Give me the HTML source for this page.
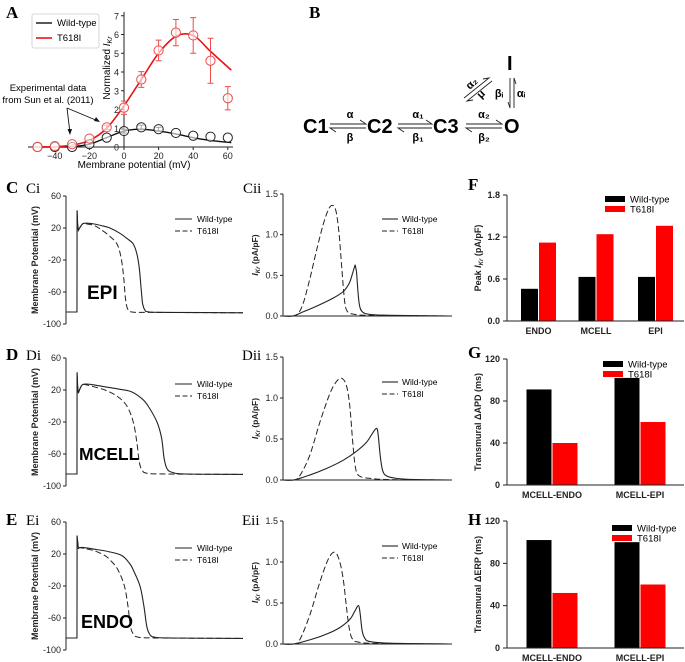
<!DOCTYPE html>
<html><head><meta charset="utf-8"><style>
html,body{margin:0;padding:0;background:#fff;}
svg{display:block;font-family:"Liberation Sans",Arial,sans-serif;}
.pl{font-family:"Liberation Serif",serif;font-weight:bold;font-size:17px;}
.sl{font-family:"Liberation Serif",serif;font-size:15px;}
.tk{font-size:9px;fill:#222;}
.bt{font-size:9px;font-weight:bold;fill:#222;}
</style></head><body>
<svg id="fig" width="685" height="662" viewBox="0 0 685 662" xmlns="http://www.w3.org/2000/svg"></svg>
<script>
// ---------- Panel A data ----------
const aVolt = [-50,-40,-30,-20,-10,0,10,20,30,40,50,60];
const aWtPts = [0,0,0,0.15,0.5,0.85,1.05,0.95,0.75,0.6,0.55,0.5];
const aWtErr = [0,0,0,0.03,0.05,0.1,0.12,0.1,0.06,0.05,0.05,0.05];
const aMutPts = [0,0.05,0.15,0.45,1.05,2.1,3.6,5.15,6.1,5.95,4.6,2.6];
const aMutErr = [0,0,0.03,0.05,0.12,0.35,0.42,0.55,0.7,0.95,1.2,0.62];
const aFitV = [-52,-50,-40,-30,-20,-10,0,10,20,30,40,50,62];
const aWtFit = [0,0,0,0.02,0.15,0.5,0.85,0.95,0.85,0.7,0.5,0.35,0.23];
const aMutFit = [0,0,0.02,0.1,0.35,1.0,2.2,3.6,5.0,5.9,5.95,5.1,4.1];
const aXTicks = [-40,-20,0,20,40,60];
const aYTicks = [0,1,2,3,4,5,6,7];
// ---------- AP traces [t(ms), mV] ----------
const epiWt = [[0,-85],[31,-85],[31.3,42],[33,24],[35,17],[40,21],[48,25.5],[60,26],[80,25],[100,23],[124,20],[150,14],[175,6],[190,0],[200,-12],[207,-30],[212,-55],[216,-74],[222,-82],[235,-85],[300,-85.5],[500,-86]];
const epiMut = [[0,-85],[31,-85],[31.3,42],[33,24],[35,17],[40,21],[48,25.5],[60,25],[80,23],[96,19],[120,11],[144,0],[156,-18],[163,-42],[168,-68],[174,-81],[186,-85],[250,-85.5],[500,-86]];
const mcWt = [[0,-85],[31,-85],[31.3,42],[33,24],[35,16],[40,22],[48,27],[70,27],[110,24],[150,21],[184,18],[215,9],[232,0],[257,-20],[270,-40],[277,-65],[285,-78],[300,-83],[340,-85],[500,-85.5]];
const mcMut = [[0,-85],[31,-85],[31.3,42],[33,24],[35,16],[40,22],[48,27],[70,25],[110,20],[145,12],[172,0],[190,-20],[200,-45],[207,-70],[215,-80],[228,-84],[280,-85],[500,-85.5]];
const enWt = [[0,-85],[31,-85],[31.3,43],[33,35],[35,27],[40,28],[50,28],[80,26],[120,23],[158,18],[180,8],[190,0],[209,-20],[220,-45],[228,-70],[236,-80],[250,-84],[300,-85],[500,-85.5]];
const enMut = [[0,-85],[31,-85],[31.3,43],[33,35],[35,27],[40,28],[50,27],[80,24],[110,18],[130,10],[147,0],[165,-20],[175,-45],[182,-70],[190,-80],[205,-84],[260,-85],[500,-85.5]];
// ---------- IKr traces [t(ms), pA/pF] ----------
const ciWt = [[0,0],[30,0],[60,0.05],[100,0.12],[150,0.22],[180,0.3],[198,0.4],[208,0.52],[216,0.63],[220,0.55],[224,0.32],[229,0.13],[238,0.05],[260,0.02],[320,0.008],[500,0]];
const ciMut = [[0,0],[30,0],[45,0.03],[60,0.15],[80,0.45],[100,0.8],[120,1.12],[135,1.3],[147,1.36],[158,1.3],[167,1.05],[174,0.7],[180,0.38],[186,0.14],[194,0.05],[215,0.02],[270,0.008],[500,0]];
const diWt = [[0,0],[32,0],[80,0.06],[130,0.14],[180,0.24],[220,0.35],[250,0.46],[268,0.57],[280,0.63],[285,0.55],[291,0.3],[298,0.12],[310,0.05],[340,0.02],[400,0.005],[500,0]];
const diMut = [[0,0],[32,0],[50,0.05],[80,0.3],[110,0.7],[140,1.05],[160,1.2],[176,1.24],[190,1.15],[200,0.9],[209,0.45],[217,0.15],[228,0.05],[260,0.02],[320,0.005],[500,0]];
const eiWt = [[0,0],[32,0],[80,0.05],[130,0.12],[170,0.2],[200,0.3],[215,0.4],[226,0.47],[231,0.37],[237,0.16],[245,0.07],[260,0.03],[320,0.01],[500,0]];
const eiMut = [[0,0],[32,0],[50,0.05],[80,0.35],[110,0.75],[135,1.03],[154,1.12],[168,1.03],[180,0.8],[190,0.45],[198,0.2],[208,0.06],[230,0.02],[300,0.005],[500,0]];
const apTicks = [60,20,-20,-60,-100];
const ikTicks = [0,0.5,1.0,1.5];
// ---------- Bars ----------
const fCats = ["ENDO","MCELL","EPI"];
const fWt = [0.46,0.63,0.63];
const fMut = [1.12,1.24,1.36];
const fTicks = [0,0.6,1.2,1.8];
const gCats = ["MCELL-ENDO","MCELL-EPI"];
const gWt = [91,102];
const gMut = [40,60];
const hWt = [102,100];
const hMut = [52,60];
const ghTicks = [0,40,80,120];

const NS="http://www.w3.org/2000/svg";
const svg=document.getElementById('fig');
function mk(tag,attrs,parent){const e=document.createElementNS(NS,tag);for(const k in attrs)e.setAttribute(k,attrs[k]);(parent||svg).appendChild(e);return e;}
function txt(s,x,y,cls,extra,parent){const e=mk('text',Object.assign({x:x,y:y},extra||{}),parent);if(cls)e.setAttribute('class',cls);e.textContent=s;return e;}
function smooth(p){
  const n=p.length;
  const jump=i=>(i>=0&&i<n-1&&Math.abs(p[i+1][0]-p[i][0])<1.5);
  let d='M'+p[0][0].toFixed(2)+','+p[0][1].toFixed(2);
  for(let i=0;i<n-1;i++){
    const p1=p[i],p2=p[i+1];
    if(jump(i)){d+=`L${p2[0].toFixed(2)},${p2[1].toFixed(2)}`;continue;}
    const p0=(i>0&&!jump(i-1))?p[i-1]:p1;
    const p3=(i+2<n&&!jump(i+1))?p[i+2]:p2;
    const c1=[p1[0]+(p2[0]-p0[0])/6,p1[1]+(p2[1]-p0[1])/6],c2=[p2[0]-(p3[0]-p1[0])/6,p2[1]-(p3[1]-p1[1])/6];
    d+=`C${c1[0].toFixed(2)},${c1[1].toFixed(2)} ${c2[0].toFixed(2)},${c2[1].toFixed(2)} ${p2[0].toFixed(2)},${p2[1].toFixed(2)}`;
  }
  return d;
}

// panel letters
[['A',6,18],['B',309,18],['C',6,193],['D',6,360],['E',6,525],['F',468,190],['G',468,358],['H',468,525]].forEach(l=>{
  const t=txt(l[0],l[1],l[2],'pl');
  
  
});
[['Ci',26,193],['Cii',243,193],['Di',26,360],['Dii',242,360],['Ei',26,525],['Eii',242,525]].forEach(l=>{
  const t=txt(l[0],l[1],l[2],'sl');
  
  
});

// ---------- Panel A ----------
(function(){
  const g=mk('g',{});
  
  
  const X=v=>124+v*1.73, Y=v=>147-v*18.75;
  mk('line',{x1:124,y1:12,x2:124,y2:147,stroke:'#222','stroke-width':1},g);
  mk('line',{x1:28,y1:147,x2:233,y2:147,stroke:'#222','stroke-width':1},g);
  aXTicks.forEach(v=>{mk('line',{x1:X(v),y1:147,x2:X(v),y2:150,stroke:'#222'},g);const t=txt((v<0?'−':'')+Math.abs(v),X(v),159,'tk',{'text-anchor':'middle','font-size':'10'},g);});
  aYTicks.forEach(v=>{mk('line',{x1:121,y1:Y(v),x2:124,y2:Y(v),stroke:'#222'},g);const t=txt(String(v),119,Y(v)+3.5,'tk',{'text-anchor':'end','font-size':'10'},g);});
  const xl=txt('Membrane potential (mV)',134,168,null,{'text-anchor':'middle','font-size':'10'},g);
  
  const yl=mk('text',{x:0,y:0,transform:'translate(110,68) rotate(-90)','text-anchor':'middle','font-size':'10'},g);
  yl.innerHTML='Normalized <tspan font-style="italic">I</tspan><tspan font-size="7" dy="2" font-style="italic">Kr</tspan>';
  
  const fw=mk('path',{d:smooth(aFitV.map((v,i)=>[X(v),Y(aWtFit[i])])),fill:'none',stroke:'#111','stroke-width':1.4},g);
  
  const fm=mk('path',{d:smooth(aFitV.map((v,i)=>[X(v),Y(aMutFit[i])])),fill:'none',stroke:'#e8141a','stroke-width':1.6},g);
  
  function pts(vals,errs,col,name){aVolt.forEach((v,i)=>{
    if(errs[i]>0.08){const e=mk('path',{d:`M${X(v)},${Y(vals[i]+errs[i])}V${Y(vals[i]-errs[i])}M${X(v)-3},${Y(vals[i]+errs[i])}h6M${X(v)-3},${Y(vals[i]-errs[i])}h6`,stroke:col,'stroke-width':1,fill:'none'},g);}
    const c=mk('circle',{cx:X(v),cy:Y(vals[i]),r:4.6,fill:'#fff','fill-opacity':0.6,stroke:col,'stroke-width':1},g);
    
  });}
  pts(aWtPts,aWtErr,'#222','wild-type');
  pts(aMutPts,aMutErr,'#ef4b4b','t618i');
  const lg=mk('g',{},g);
  mk('rect',{x:32,y:14,width:67,height:34,fill:'#fff',stroke:'#ccc','stroke-width':0.8,rx:2},lg);
  mk('line',{x1:36,y1:23,x2:52,y2:23,stroke:'#111','stroke-width':1.4},lg);
  txt('Wild-type',57,26,null,{'font-size':'9.5'},lg);
  mk('line',{x1:36,y1:38,x2:52,y2:38,stroke:'#e8141a','stroke-width':1.6},lg);
  txt('T618I',57,41,null,{'font-size':'9.5'},lg);
  const an=mk('g',{},g);
  txt('Experimental data',48,91,null,{'text-anchor':'middle','font-size':'9.5'},an);
  txt('from Sun et al. (2011)',48,103,null,{'text-anchor':'middle','font-size':'9.5'},an);
  mk('path',{d:'M67,108L70,133M67,108L98,121',stroke:'#111','stroke-width':0.9,fill:'none'},an);
  mk('path',{d:'M70,135l-2.5,-6l4.5,0zM100,122l-6,-1l2,-4z',fill:'#111'},an);
})();

// ---------- Panel B ----------
(function(){
  const g=mk('g',{'font-weight':'bold'});
  
  
  const st=[['C1',303,133],['C2',367,133],['C3',433,133],['O',504,133],['I',507,70]];
  st.forEach(s=>{const t=txt(s[0],s[1],s[2],null,{'font-size':'20'},g);});
  function harr(x1,x2,y){mk('path',{d:`M${x1},${y-2}H${x2}l-6,-4M${x2},${y+2}H${x1}l6,4`,stroke:'#222','stroke-width':0.9,fill:'none'},g);}
  harr(330,366,126);harr(398,432,126);harr(466,502,126);
  mk('path',{d:'M510,78V108l-2,-6M514,108V78l2,6',stroke:'#222','stroke-width':0.9,fill:'none'},g);
  mk('path',{d:'M464,98L489,78l-6,1M492,81L467,101l6,-1',stroke:'#222','stroke-width':0.9,fill:'none'},g);
  const lab=[['α',350,118],['β',350,141],['α₁',418,118],['β₁',418,141],['α₂',484,118],['β₂',484,141],['βᵢ',499,97],['αᵢ',521,97]];
  lab.forEach(l=>{const t=txt(l[0],l[1],l[2],null,{'text-anchor':'middle','font-size':'11'},g);});
  const a2=txt('α₂',0,0,null,{'font-size':'11',transform:'translate(470,90) rotate(-45)'},g);
  const mu=txt('μ',0,0,null,{'font-size':'11',transform:'translate(481,99) rotate(-45)'},g);
})();

// ---------- AP panels ----------
function apPanel(name,top,bot,wt,mut,tag,tagX,tagY,legY,fs){
  const g=mk('g',{});
  
  
  const X=t=>66+t*177/500, Y=v=>top+(60-v)*(bot-top)/160;
  mk('line',{x1:66,y1:top,x2:66,y2:bot,stroke:'#222','stroke-width':1},g);
  apTicks.forEach(v=>{mk('line',{x1:63,y1:Y(v),x2:66,y2:Y(v),stroke:'#222'},g);const t=txt(String(v),61,Y(v)+3,'tk',{'text-anchor':'end','font-size':'8.5'},g);});
  const yl=txt('Membrane Potential (mV)',0,0,'bt',{transform:`translate(38,${(top+bot)/2}) rotate(-90)`,'text-anchor':'middle','font-size':'8.5'},g);
  
  const pm=mk('path',{d:smooth(mut.map(p=>[X(p[0]),Y(p[1])])),fill:'none',stroke:'#222','stroke-width':1,'stroke-dasharray':'6,3'},g);
  
  const pw=mk('path',{d:smooth(wt.map(p=>[X(p[0]),Y(p[1])])),fill:'none',stroke:'#222','stroke-width':1.1},g);
  
  const tg=txt(tag,tagX,tagY,null,{'font-weight':'bold','font-size':fs},g);
  
  const lg=mk('g',{'font-size':'8.5'},g);
  mk('line',{x1:175,y1:legY,x2:192,y2:legY,stroke:'#222','stroke-width':1.1},lg);
  txt('Wild-type',197,legY+3,null,{},lg);
  mk('line',{x1:175,y1:legY+12,x2:192,y2:legY+12,stroke:'#222','stroke-dasharray':'5,2.5'},lg);
  txt('T618I',197,legY+15,null,{},lg);
}
apPanel('panel-ci-epi-ap',196,324,epiWt,epiMut,'EPI',87,299,219,'19');
apPanel('panel-di-mcell-ap',358,486,mcWt,mcMut,'MCELL',79,460,384,'17.5');
apPanel('panel-ei-endo-ap',522,650,enWt,enMut,'ENDO',81,628,548,'18');

// ---------- IKr panels ----------
function ikPanel(name,top,bot,wt,mut,legY){
  const g=mk('g',{});
  
  
  const X=t=>283+t*167/500, Y=v=>bot-v*(bot-top)/1.5;
  mk('line',{x1:283,y1:top,x2:283,y2:bot,stroke:'#222','stroke-width':1},g);
  mk('line',{x1:283,y1:bot,x2:452,y2:bot,stroke:'#222','stroke-width':1},g);
  ikTicks.forEach(v=>{mk('line',{x1:280,y1:Y(v),x2:283,y2:Y(v),stroke:'#222'},g);const t=txt(v.toFixed(1),278,Y(v)+3,'tk',{'text-anchor':'end','font-size':'8.5'},g);});
  const yl=mk('text',{transform:`translate(258,${(top+bot)/2}) rotate(-90)`,'text-anchor':'middle','font-size':'8.5','font-weight':'bold',fill:'#222'},g);
  yl.innerHTML='<tspan font-style="italic">I</tspan><tspan font-size="6" dy="2" font-style="italic">Kr</tspan><tspan dy="-2"> (pA/pF)</tspan>';
  
  const pm=mk('path',{d:smooth(mut.map(p=>[X(p[0]),Y(p[1])])),fill:'none',stroke:'#222','stroke-width':1,'stroke-dasharray':'6,3'},g);
  
  const pw=mk('path',{d:smooth(wt.map(p=>[X(p[0]),Y(p[1])])),fill:'none',stroke:'#222','stroke-width':1.1},g);
  
  const lg=mk('g',{'font-size':'8.5'},g);
  mk('line',{x1:382,y1:legY,x2:398,y2:legY,stroke:'#222','stroke-width':1.1},lg);
  txt('Wild-type',402,legY+3,null,{},lg);
  mk('line',{x1:382,y1:legY+12,x2:398,y2:legY+12,stroke:'#222','stroke-dasharray':'5,2.5'},lg);
  txt('T618I',402,legY+15,null,{},lg);
}
ikPanel('panel-cii-epi-ikr',194,316,ciWt,ciMut,219);
ikPanel('panel-dii-mcell-ikr',357,480,diWt,diMut,382);
ikPanel('panel-eii-endo-ikr',521,644,eiWt,eiMut,546);

// ---------- Bar panels ----------
function barPanel(name,top,bot,max,ticks,cats,wt,mut,centers,bw,dec,titleHtml,legX,legY){
  const g=mk('g',{});
  
  
  const Y=v=>bot-v*(bot-top)/max;
  ticks.forEach(v=>{mk('line',{x1:503,y1:Y(v),x2:507,y2:Y(v),stroke:'#222'},g);const t=txt(v.toFixed(dec),500,Y(v)+3,'bt',{'text-anchor':'end','font-size':'8'},g);});
  const yl=mk('text',{transform:`translate(481,${(top+bot)/2}) rotate(-90)`,'text-anchor':'middle','font-size':'9','font-weight':'bold',fill:'#222'},g);
  yl.innerHTML=titleHtml;
  
  cats.forEach((c,i)=>{
    const b1=mk('rect',{x:centers[i]-bw-0.5,y:Y(wt[i]),width:bw,height:bot-Y(wt[i]),fill:'#000'},g);
    
    
    const b2=mk('rect',{x:centers[i]+0.5,y:Y(mut[i]),width:bw,height:bot-Y(mut[i]),fill:'#f00'},g);
    
    
    const t=txt(c,centers[i],bot+13,'bt',{'text-anchor':'middle'},g);
    
  });
  mk('line',{x1:507,y1:top,x2:507,y2:bot,stroke:'#222'},g);
  mk('line',{x1:507,y1:bot,x2:684,y2:bot,stroke:'#222'},g);
  const lg=mk('g',{'font-size':'9.5'},g);
  mk('rect',{x:legX,y:legY-3,width:20,height:6,fill:'#000'},lg);
  txt('Wild-type',legX+25,legY+3.5,null,{},lg);
  mk('rect',{x:legX,y:legY+7,width:20,height:6,fill:'#f00'},lg);
  txt('T618I',legX+25,legY+13.5,null,{},lg);
}
barPanel('panel-f-peak-ikr',195,321,1.8,fTicks,fCats,fWt,fMut,[538.5,596,655.5],17,1,'Peak <tspan font-style="italic">I</tspan><tspan font-size="6" dy="2" font-style="italic">Kr</tspan><tspan dy="-2"> (pA/pF)</tspan>',605,199);
barPanel('panel-g-transmural-apd',359,485,120,ghTicks,gCats,gWt,gMut,[552,640],25,0,'Transmural ΔAPD (ms)',603,364);
barPanel('panel-h-transmural-erp',521,648,120,ghTicks,gCats,hWt,hMut,[552,640],25,0,'Transmural ΔERP (ms)',612,528);
</script>
</body></html>
